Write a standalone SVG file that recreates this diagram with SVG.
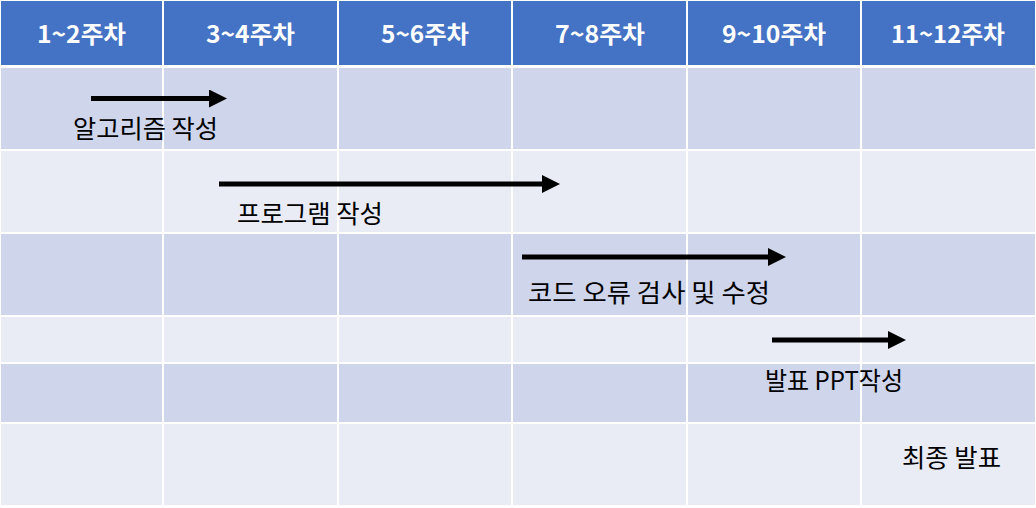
<svg xmlns="http://www.w3.org/2000/svg" width="1036" height="508" viewBox="0 0 1036 508">
<defs>
<style>
.hdr{fill:#4472C4}
.dk{fill:#CFD5EA}
.lt{fill:#E9EBF5}
.grid{stroke:#FFFFFF;stroke-width:2}
.ht{font-family:"Noto Sans CJK KR","Noto Sans CJK SC",sans-serif;font-weight:bold;font-size:24px;fill:#FFFFFF;text-anchor:middle}
.lbl{font-family:"Noto Sans CJK KR","Noto Sans CJK SC",sans-serif;font-size:25px;fill:#000000}
.arr{stroke:#000000;stroke-width:5;fill:none}
</style>
<marker id="ah" markerUnits="userSpaceOnUse" markerWidth="18" markerHeight="18" refX="0" refY="9" orient="auto">
<path d="M0,0 L18,9 L0,18 Z" fill="#000000"/>
</marker>
</defs>
<rect x="0" y="0" width="1036" height="508" fill="#FFFFFF"/>
<g id="table">
<rect class="hdr" x="1" y="1" width="1034" height="64"/>
<rect class="dk" x="1" y="68" width="1034" height="81"/>
<rect class="lt" x="1" y="151" width="1034" height="81"/>
<rect class="dk" x="1" y="234" width="1034" height="81"/>
<rect class="lt" x="1" y="317" width="1034" height="45"/>
<rect class="dk" x="1" y="364" width="1034" height="58"/>
<rect class="lt" x="1" y="424" width="1034" height="81"/>
<g class="grid">
<line x1="163" y1="0" x2="163" y2="506"/>
<line x1="338" y1="0" x2="338" y2="506"/>
<line x1="512" y1="0" x2="512" y2="506"/>
<line x1="687" y1="0" x2="687" y2="506"/>
<line x1="861" y1="0" x2="861" y2="506"/>
</g>
</g>
<g id="header">
<text class="ht" x="81.5" y="43" textLength="89" lengthAdjust="spacingAndGlyphs">1~2주차</text>
<text class="ht" x="250.5" y="43" textLength="89" lengthAdjust="spacingAndGlyphs">3~4주차</text>
<text class="ht" x="425" y="43" textLength="88" lengthAdjust="spacingAndGlyphs">5~6주차</text>
<text class="ht" x="600" y="43" textLength="90" lengthAdjust="spacingAndGlyphs">7~8주차</text>
<text class="ht" x="774" y="43" textLength="104" lengthAdjust="spacingAndGlyphs">9~10주차</text>
<text class="ht" x="948" y="43" textLength="114" lengthAdjust="spacingAndGlyphs">11~12주차</text>
</g>
<g id="connectors">
<line class="arr" x1="91" y1="98.5" x2="209" y2="98.5" marker-end="url(#ah)"/>
<line class="arr" x1="219" y1="184" x2="542" y2="184" marker-end="url(#ah)"/>
<line class="arr" x1="522" y1="257" x2="768" y2="257" marker-end="url(#ah)"/>
<line class="arr" x1="772" y1="340" x2="888" y2="340" marker-end="url(#ah)"/>
</g>
<g id="task1"><text class="lbl" x="73" y="138" textLength="145" lengthAdjust="spacingAndGlyphs">알고리즘 작성</text></g>
<g id="task2"><text class="lbl" x="237" y="223" textLength="146" lengthAdjust="spacingAndGlyphs">프로그램 작성</text></g>
<g id="task3"><text class="lbl" x="528" y="302" textLength="242" lengthAdjust="spacingAndGlyphs">코드 오류 검사 및 수정</text></g>
<g id="task4"><text class="lbl" x="765" y="390" textLength="138" lengthAdjust="spacingAndGlyphs">발표 PPT작성</text></g>
<g id="task5"><text class="lbl" x="902" y="467" textLength="99" lengthAdjust="spacingAndGlyphs">최종 발표</text></g>
</svg>
